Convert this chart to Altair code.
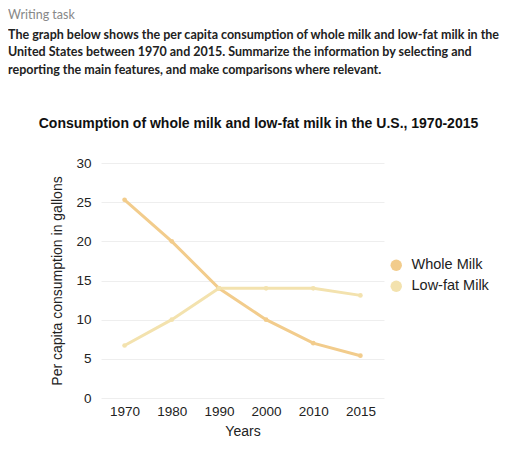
import altair as alt
import pandas as pd

years = ["1970", "1980", "1990", "2000", "2010", "2015"]
whole_milk = [25.3, 20.0, 14.0, 10.0, 7.0, 5.4]
low_fat_milk = [6.7, 10.0, 14.0, 14.0, 14.0, 13.1]
series_names = ["Whole Milk", "Low-fat Milk"]
series_colors = ["#F2CC8C", "#F3E2AE"]

header_label = ["Writing task"]
task_text = ["The graph below shows the per capita consumption of whole milk and low-fat milk in the\n"
             "United States between 1970 and 2015.  Summarize the information by selecting and\n"
             "reporting the main features, and make comparisons where relevant."]
chart_title = ["Consumption of whole milk and low-fat milk in the U.S., 1970-2015"]

rows = []
for y, w, l in zip(years, whole_milk, low_fat_milk):
    rows.append({"Year": y, "Series": series_names[0], "Value": w})
    rows.append({"Year": y, "Series": series_names[1], "Value": l})
df = pd.DataFrame(rows)

FONT = "Liberation Sans"
HFONT = "Lato"

x = alt.X("Year:O", sort=years, title="Years",
          axis=alt.Axis(labelAngle=0, labelFont=FONT, labelFontSize=13.5, labelColor="#222",
                        titleFont=FONT, titleFontSize=14, titleFontWeight="normal", titleColor="#222",
                        ticks=False, domain=False, labelPadding=6, titlePadding=7))
y = alt.Y("Value:Q", title="Per capita consumption in gallons",
          scale=alt.Scale(domain=[0, 30]),
          axis=alt.Axis(values=[0, 5, 10, 15, 20, 25, 30], labelFont=FONT, labelFontSize=13.5, labelColor="#222",
                        titleFont=FONT, titleFontSize=14, titleFontWeight="normal", titleColor="#222",
                        ticks=False, domain=False, grid=True, gridColor="#eeeeee", labelPadding=10,
                        titlePadding=11))
color = alt.Color("Series:N", sort=series_names,
                  scale=alt.Scale(domain=series_names, range=series_colors),
                  legend=alt.Legend(title=None, orient="none", legendX=288, legendY=95,
                                    symbolType="circle", symbolSize=130,
                                    symbolStrokeWidth=0, labelFont=FONT, labelFontSize=14.5,
                                    labelColor="#222", rowPadding=6, padding=0, labelOffset=8))

base = alt.Chart(df).encode(x=x, y=y, color=color, detail="Series:N")
lines = base.mark_line(strokeWidth=3)
points = base.mark_point(filled=True, size=22, opacity=1)

header = alt.Chart(pd.DataFrame({"t": header_label})).mark_text(
    font=HFONT, fontSize=12.5, color="#888", align="left", baseline="middle"
).encode(text="t:N", x=alt.value(-93), y=alt.value(-148))

task = alt.Chart(pd.DataFrame({"t": task_text})).mark_text(
    font=HFONT, fontSize=12.5, fontWeight="bold", color="#222", align="left", baseline="middle",
    lineBreak="\n", lineHeight=17.5
).encode(text="t:N", x=alt.value(-93), y=alt.value(-128.5))

title = alt.Chart(pd.DataFrame({"t": chart_title})).mark_text(
    font=FONT, fontSize=14, fontWeight="bold", color="#111", align="center", baseline="middle"
).encode(text="t:N", x=alt.value(157.5), y=alt.value(-39))

chart = alt.layer(lines, points, header, task, title).properties(
    width=283, height=235, padding={"left": 0, "top": 1, "right": 0, "bottom": 0},
).configure_view(stroke=None)

chart.save("out.html", embed_options={"renderer": "svg", "actions": False})
